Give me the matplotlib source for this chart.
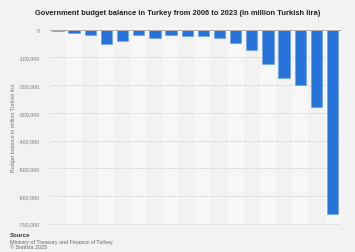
import matplotlib.pyplot as plt
from matplotlib.ticker import FuncFormatter

plt.rcParams['font.family'] = ['Liberation Sans', 'DejaVu Sans']

# data (million Turkish lira)
years = list(range(2006, 2024))
balance = [-6000, -13000, -17000, -53000, -40000, -18000, -29000, -19000, -24000,
           -24000, -30000, -47000, -73000, -124000, -174000, -200000, -280000, -665000]
yticks = [0, -100000, -200000, -300000, -400000, -500000, -600000, -700000]

bg = '#f2f2f2'
fig = plt.figure(figsize=(3.55, 2.53), dpi=100, facecolor=bg)
ax = fig.add_axes([0.1406, 0.1067, 0.819, 0.777], facecolor=bg)

x = list(range(len(years)))
# alternating column bands
for i in x:
    if i % 2 == 1:
        ax.axvspan(i - 0.5, i + 0.5, color='#f7f7f7', zorder=0, lw=0)

ax.bar(x, balance, width=0.7, color='#2673d9', edgecolor='#6a9fe3', linewidth=0.4, zorder=3)

ax.set_xlim(-0.5, len(years) - 0.5)
ax.set_ylim(-705000, 5000)
ax.set_yticks(yticks)
ax.yaxis.set_major_formatter(FuncFormatter(lambda v, p: f'{int(v):,}'))
ax.grid(axis='y', color='#dddddd', linewidth=0.6, zorder=1)
ax.axhline(0, color='#aaaaaa', linewidth=0.7, zorder=4)
ax.set_xticks([])
ax.tick_params(axis='y', length=0, labelsize=3.8, labelcolor='#777777', pad=7)
for s in ax.spines.values():
    s.set_visible(False)

ax.set_ylabel('Budget balance in million Turkish lira', fontsize=3.9, color='#777777')
ax.yaxis.set_label_coords(-0.118, 0.5)

fig.text(0.5, 0.948, 'Government budget balance in Turkey from 2006 to 2023 (in million Turkish lira)',
         ha='center', va='center', fontsize=5.4, fontweight='bold', color='#222222')
fig.text(0.028, 0.068, 'Source', fontsize=4.3, fontweight='bold', color='#333333', va='center')
fig.text(0.028, 0.043, 'Ministry of Treasury and Finance of Turkey', fontsize=3.9, color='#666666', va='center')
fig.text(0.028, 0.02, '\u00a9 Statista 2025', fontsize=3.9, color='#666666', va='center')

fig.savefig('out.png', dpi=100, facecolor=bg)
